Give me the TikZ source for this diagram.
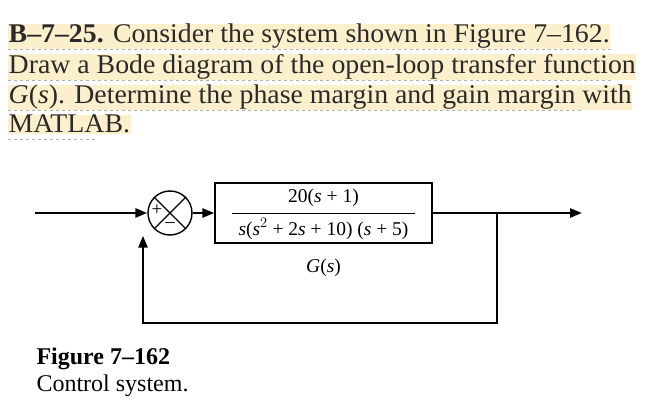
\documentclass[tikz,border=0pt]{standalone}
\usepackage{fontspec}
\setmainfont{Liberation Serif}
\usetikzlibrary{arrows.meta}
\definecolor{hl}{HTML}{FCEFCB}
\definecolor{ink}{HTML}{2A2A2A}
\begin{document}
\begin{tikzpicture}[x=1pt,y=-1pt,
  line/.style={line width=2.6pt,draw=black},
  arr/.style={line/.try,-{Triangle[length=12pt,width=9pt]}},
  tl/.style={anchor=base west,inner sep=0.5pt,fill=hl,text=ink,xscale=1.03,font=\fontsize{27}{29}\selectfont}]
\useasboundingbox (0,0) rectangle (648,414);
\node[tl] (l1) at (8,43) {\textbf{B–7–25.} Consider the system shown in Figure 7–162.};
\node[tl] (l2) at (8,74) {Draw a Bode diagram of the open-loop transfer function};
\node[tl] (l3) at (8,104) {\textit{G}(\textit{s}). Determine the phase margin and gain margin with};
\node[tl] (l4) at (8,133) {MATLAB.};
\foreach \y/\w in {49/605,80/605,110/575,139/88}
  \draw[dashed,gray!60,line width=0.8pt] (8,\y) -- ++(\w,0);
\node[circle,draw,line width=1.4pt,minimum size=44pt,inner sep=0] (s) at (170,213) {};
\draw[line width=1.1pt] (s.north west) -- (s.south east) (s.north east) -- (s.south west);
\node[font=\fontsize{19}{19}\selectfont] at (157,210) {+};
\node[font=\fontsize{19}{19}\selectfont] at (170,225) {–};
\node[draw,line width=1.4pt,minimum width=217pt,minimum height=60pt,inner sep=0] (g) at (323.5,213) {};
\node[font=\fontsize{19.5}{20}\selectfont] (num) at (323.5,198) {20(\textit{s} + 1)};
\draw[line width=0.8pt] (232,213) -- (415,213);
\node[font=\fontsize{19.5}{20}\selectfont] (den) at (323.5,229) {\textit{s}(\textit{s}$^2$ + 2\textit{s} + 10) (\textit{s} + 5)};
\node[font=\fontsize{19.5}{20}\selectfont] (gl) at (323.5,268) {\textit{G}(\textit{s})};
\coordinate (in) at (35,213);
\coordinate (out) at (582,213);
\coordinate (br) at (497,213);
\coordinate (c1) at (497,323);
\coordinate (c2) at (143,323);
\draw[arr] (in) -- (s.west);
\draw[arr] (s.east) -- (g.west);
\draw[arr] (g.east) -- (out);
\draw[arr] (br) -- (c1) -- (c2) -- (s.south -| c2);
\node[anchor=base west,font=\bfseries\fontsize{24}{26}\selectfont] (f1) at (33,364) {Figure 7–162};
\node[anchor=base west,font=\fontsize{24}{26}\selectfont] (f2) at (33,391) {Control system.};
\end{tikzpicture}
\end{document}
